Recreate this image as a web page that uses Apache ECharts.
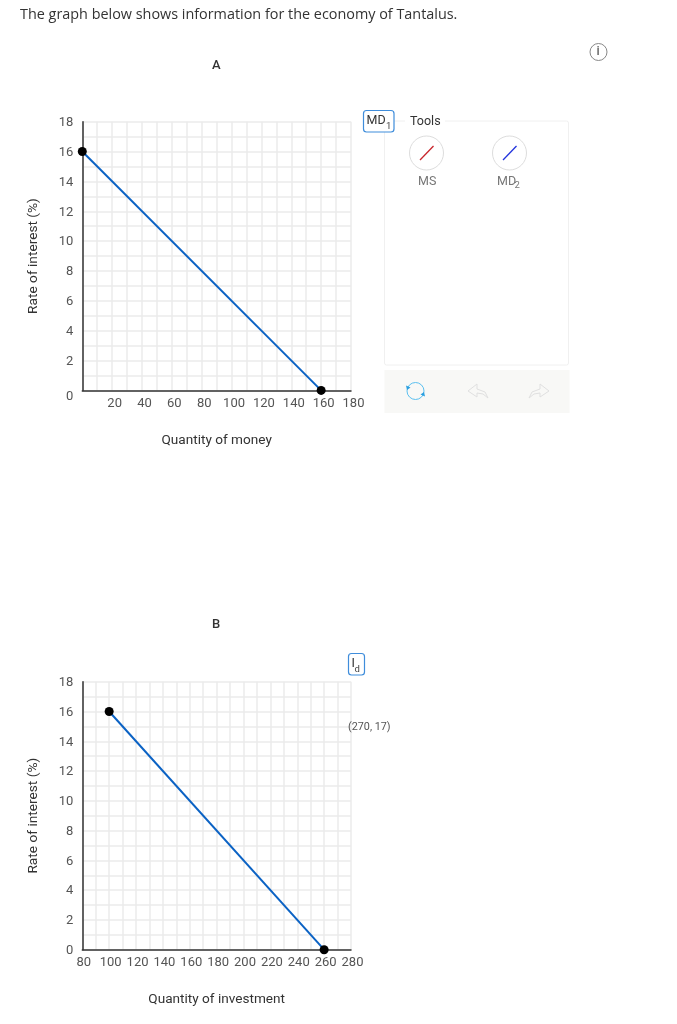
<!DOCTYPE html>
<html>
<head>
<meta charset="utf-8">
<style>
html, body { margin: 0; padding: 0; background: #fff; }
#main { width: 677px; height: 1024px; }
</style>
<script src="https://cdn.jsdelivr.net/npm/echarts@6/dist/echarts.min.js"></script>
</head>
<body>
<div id="main"></div>
<script>
// chart values
var moneyTicks = [20, 40, 60, 80, 100, 120, 140, 160, 180];
var investTicks = [80, 100, 120, 140, 160, 180, 200, 220, 240, 260, 280];
var rateTicks = [0, 2, 4, 6, 8, 10, 12, 14, 16, 18];
var moneyDemand = [[0, 16], [160, 0]];
var investDemand = [[100, 16], [260, 0]];

var fontName = 'Roboto';
var axisGrey = '#555555';
var gridGrey = '#ebebeb';

function xAxisFor(gridIndex, min, max, ticks, name, nudge) {
    return {
        type: 'value', gridIndex: gridIndex, min: min, max: max, interval: 10,
        name: name, nameLocation: 'middle', nameGap: 43,
        nameTextStyle: { fontFamily: fontName, fontSize: 13.6, color: '#333' },
        axisLine: { onZero: false, lineStyle: { color: '#333', width: 1.5 } },
        axisTick: { show: false },
        splitLine: { show: true, lineStyle: { color: gridGrey, width: 1.5 } },
        axisLabel: {
            fontFamily: fontName, fontSize: 13, color: axisGrey, showMaxLabel: true,
            hideOverlap: false, margin: 7, padding: [0, 0, 0, nudge],
            formatter: function (v) { return ticks.indexOf(v) >= 0 ? String(v) : ''; }
        }
    };
}

function yAxisFor(gridIndex, name, zeroDrop) {
    return {
        type: 'value', gridIndex: gridIndex, min: 0, max: 18, interval: 1,
        name: name, nameLocation: 'middle', nameGap: 42,
        nameTextStyle: { fontFamily: fontName, fontSize: 13.7, color: '#333' },
        axisLine: { onZero: false, lineStyle: { color: '#333', width: 1.5 } },
        axisTick: { show: false },
        splitLine: { show: true, lineStyle: { color: gridGrey, width: 1.5 } },
        axisLabel: {
            fontFamily: fontName, fontSize: 13, color: axisGrey, margin: 9, padding: [2, 0, 0, 0],
            formatter: function (v) {
                if (rateTicks.indexOf(v) < 0) return '';
                return v === 0 && zeroDrop ? '{z|0}' : String(v);
            },
            rich: { z: { fontFamily: fontName, fontSize: 13, color: axisGrey, padding: [zeroDrop, 0, 0, 0] } }
        }
    };
}

function demandSeries(axisIndex, values) {
    return {
        type: 'line', xAxisIndex: axisIndex, yAxisIndex: axisIndex, data: values,
        symbol: 'circle', symbolSize: 9, clip: false,
        itemStyle: { color: '#000' },
        lineStyle: { color: '#0b62c4', width: 2 },
        animation: false
    };
}

function plainText(x, y, text, size, color, family, weight, align) {
    return { type: 'text', x: x, y: y, z: 21, style: {
        text: text, fontFamily: family || fontName, fontSize: size, fill: color,
        fontWeight: weight || 'normal', align: align || 'left' } };
}

// box with a subscript label sitting next to a curve
function curveTag(x, y, w, h, main, sub, subX) {
    return [
        { type: 'rect', shape: { x: x, y: y, width: w, height: h, r: 3 }, z: 20,
          style: { fill: '#fff', stroke: '#3f8ddb', lineWidth: 1.2 } },
        plainText(x + 3, y + 4, main, 12.5, '#333'),
        plainText(subX, y + 11, sub, 9.5, '#444')
    ];
}

function toolButton(cx, color, label, sub, subX, labelX) {
    var parts = [
        { type: 'circle', shape: { cx: cx, cy: 153, r: 17 }, style: { fill: '#fff', stroke: '#dddddd', lineWidth: 1 } },
        { type: 'line', shape: { x1: cx - 6.5, y1: 160, x2: cx + 7, y2: 146 }, style: { stroke: color, lineWidth: 1.3 } },
        plainText(labelX, 175, label, 12.5, '#777')
    ];
    if (sub) parts.push(plainText(subX, 181, sub, 9.5, '#777'));
    return parts;
}

var decorations = [
    plainText(20, 8, 'The graph below shows information for the economy of Tantalus.', 14.4, '#333', 'Open Sans'),
    plainText(212, 59, 'A', 13, '#333', fontName, 500),
    plainText(212, 618, 'B', 13, '#333', fontName, 500),
    { type: 'circle', shape: { cx: 598.5, cy: 52, r: 8.5 }, style: { fill: 'none', stroke: '#888', lineWidth: 1 } },
    plainText(596.5, 45, 'i', 12.5, '#666', fontName, 500),
    // tools panel
    { type: 'rect', shape: { x: 384.5, y: 121, width: 184, height: 244, r: 2 }, style: { fill: '#fff', stroke: '#f0f0f0', lineWidth: 1 } },
    { type: 'rect', shape: { x: 405, y: 114, width: 40, height: 14 }, style: { fill: '#fff' } },
    plainText(410, 115, 'Tools', 12.5, '#333'),
    { type: 'rect', shape: { x: 384.5, y: 370, width: 185, height: 43 }, style: { fill: '#f8f8f6' } },
    // reset
    { type: 'circle', shape: { cx: 415.5, cy: 391, r: 8.5 }, style: { fill: 'none', stroke: '#5bc0f0', lineWidth: 1 } },
    { type: 'polygon', shape: { points: [[406, 385.5], [410.5, 387.5], [407, 390]] }, style: { fill: '#2a9fe0' } },
    { type: 'polygon', shape: { points: [[425, 396.5], [420.5, 394.5], [424, 392]] }, style: { fill: '#2a9fe0' } },
    // undo / redo
    { type: 'polyline', shape: { points: [[477, 384], [468, 391], [477, 397], [477, 393], [483, 394], [488, 398], [485, 392], [477, 389], [477, 384]] },
      style: { fill: 'none', stroke: '#e0e0e0', lineWidth: 1 } },
    { type: 'polyline', shape: { points: [[540, 384], [549, 391], [540, 397], [540, 393], [534, 394], [529, 398], [532, 392], [540, 389], [540, 384]] },
      style: { fill: 'none', stroke: '#e0e0e0', lineWidth: 1 } },
    plainText(348, 722, '(270, 17)', 10.8, '#555')
].concat(
    toolButton(426.5, '#c8252b', 'MS', '', 0, 418),
    toolButton(509.5, '#2233dd', 'MD', '2', 514.5, 497),
    curveTag(363.5, 110.5, 30.5, 21.5, 'MD', '1', 386),
    curveTag(348.5, 653.5, 16, 21.5, 'I', 'd', 354.5)
);

var chart = echarts.init(document.getElementById('main'), null, { renderer: 'canvas' });
chart.setOption({
    animation: false,
    backgroundColor: '#fff',
    grid: [
        { left: 82.3, top: 121.7, width: 268.7, height: 268.7 },
        { left: 82.3, top: 681.7, width: 268.7, height: 268 }
    ],
    xAxis: [
        xAxisFor(0, 0, 180, moneyTicks, 'Quantity of money', 5),
        xAxisFor(1, 80, 280, investTicks, 'Quantity of investment', 3)
    ],
    yAxis: [
        yAxisFor(0, 'Rate of interest (%)', 10),
        yAxisFor(1, 'Rate of interest (%)', 0)
    ],
    series: [
        demandSeries(0, moneyDemand),
        demandSeries(1, investDemand)
    ],
    graphic: decorations
});
</script>
</body>
</html>
